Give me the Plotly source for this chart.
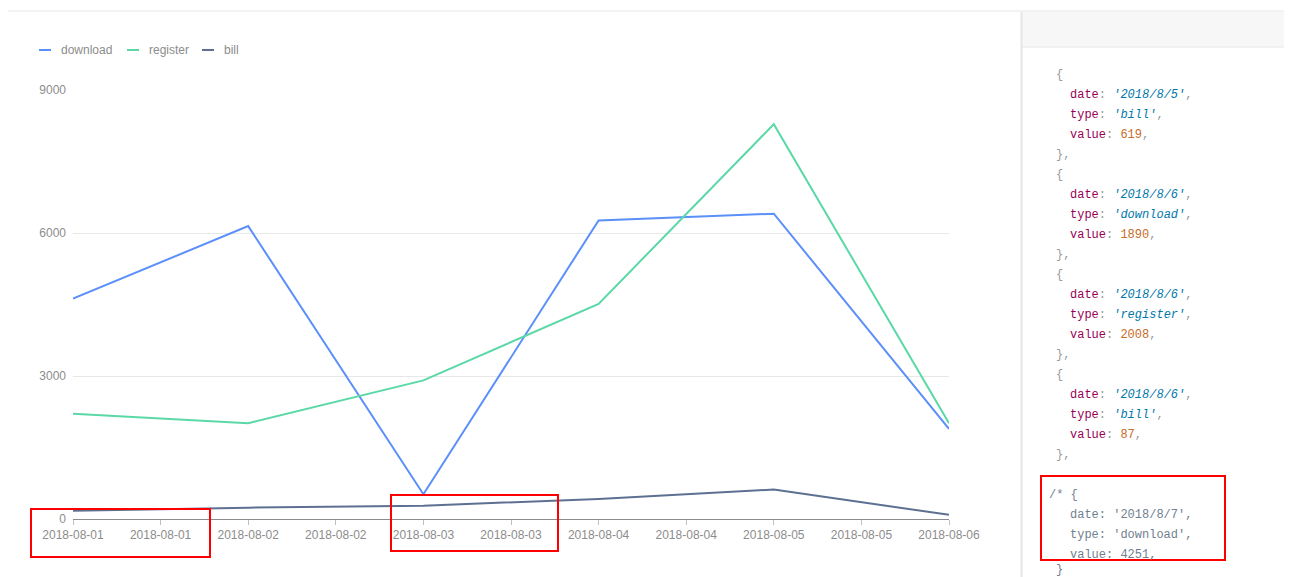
import plotly.graph_objects as go

# data
dates = ['2018-08-01', '2018-08-02', '2018-08-03', '2018-08-04', '2018-08-05', '2018-08-06']
download = [4625, 6145, 520, 6264, 6405, 1890]
register = [2207, 2011, 2908, 4513, 8282, 2008]
bill = [175, 238, 280, 420, 619, 87]

names = ['download', 'register', 'bill']
colors = ['#5B8FF9', '#5AD8A6', '#5D7092']

# the page puts the figure at an 8px body margin
OFF = 8
W, H = 1292 - OFF, 577 - OFF
L, R, T, B = 73 - OFF, 949 - OFF, 90 - OFF, 519 - OFF


def px(x):
    # x in screenshot pixels -> paper
    return (x - OFF - L) / (R - L)


def py(y):
    return (B - (y - OFF)) / (B - T)


fig = go.Figure()
for name, vals, col in zip(names, [download, register, bill], colors):
    fig.add_trace(go.Scatter(x=dates, y=vals, name=name, mode='lines',
                             line=dict(color=col, width=2), showlegend=False))

shapes = []
annotations = []

# legend drawn by hand (short line + label)
leg_x = [39, 127, 202]
for name, col, lx in zip(names, colors, leg_x):
    shapes.append(dict(type='line', xref='paper', yref='paper',
                       x0=px(lx), x1=px(lx + 12), y0=py(50), y1=py(50),
                       line=dict(color=col, width=2)))
    annotations.append(dict(text=name, xref='paper', yref='paper',
                            x=px(lx + 20), y=py(50), xanchor='left', yanchor='middle',
                            showarrow=False, font=dict(size=12, color='#8c8c8c')))

# page frame: top border, code panel
shapes.append(dict(type='line', xref='paper', yref='paper', x0=px(0), x1=px(1292),
                   y0=py(11), y1=py(11), line=dict(color='#e6e6e6', width=1)))
shapes.append(dict(type='rect', xref='paper', yref='paper', x0=px(1022), x1=px(1292),
                   y0=py(12), y1=py(47), fillcolor='#f7f7f7', line=dict(width=0)))
shapes.append(dict(type='line', xref='paper', yref='paper', x0=px(1022), x1=px(1292),
                   y0=py(47), y1=py(47), line=dict(color='#e6e6e6', width=1)))
shapes.append(dict(type='line', xref='paper', yref='paper', x0=px(1021.5), x1=px(1021.5),
                   y0=py(12), y1=py(577), line=dict(color='#e6e6e6', width=2)))

KEY = '#990055'
STR = '#0077aa'
NUM = '#c76b29'
PUN = '#999999'
CMT = '#708090'


def k(s):
    return '<span style="color:%s">%s</span>' % (KEY, s)


def p(s):
    return '<span style="color:%s">%s</span>' % (PUN, s)


def st(s):
    return '<span style="color:%s"><i>%s</i></span>' % (STR, s)


def n(s):
    return '<span style="color:%s">%s</span>' % (NUM, s)


def cm(s):
    return '<span style="color:%s">%s</span>' % (CMT, s)


def entry(d, t, v):
    return [
        (1056, p('{')),
        (1070, k('date') + p(': ') + st("'%s'" % d) + p(',')),
        (1070, k('type') + p(': ') + st("'%s'" % t) + p(',')),
        (1070, k('value') + p(': ') + n(v) + p(',')),
        (1056, p('},')),
    ]


code = []
code += entry('2018/8/5', 'bill', '619')
code += entry('2018/8/6', 'download', '1890')
code += entry('2018/8/6', 'register', '2008')
code += entry('2018/8/6', 'bill', '87')
code += [(1056, '')]
code += [
    (1049, cm('/* {')),
    (1070, cm("date: '2018/8/7',")),
    (1070, cm("type: 'download',")),
    (1070, cm('value: 4251,')),
]

y0 = 75
for i, (lx, txt) in enumerate(code):
    if not txt:
        continue
    annotations.append(dict(text=txt, xref='paper', yref='paper',
                            x=px(lx - 2), y=py(y0 + 20 * i), xanchor='left', yanchor='middle',
                            showarrow=False,
                            font=dict(family='Liberation Mono', size=12, color=PUN)))
# closing brace of the commented block, at the bottom edge of the page
annotations.append(dict(text=cm('}'), xref='paper', yref='paper',
                        x=px(1054), y=py(570), xanchor='left', yanchor='middle',
                        showarrow=False,
                        font=dict(family='Liberation Mono', size=12, color=PUN)))

# red highlight boxes
for x0, y_0, x1, y_1 in [(31, 509, 210, 557), (391, 495, 558, 551), (1041, 476, 1225, 560)]:
    shapes.append(dict(type='rect', xref='paper', yref='paper', layer='above',
                       x0=px(x0), x1=px(x1), y0=py(y_0), y1=py(y_1),
                       line=dict(color='#ff0000', width=2)))

fig.update_layout(
    width=W, height=H,
    margin=dict(l=L, r=W - R, t=T, b=H - B, pad=0),
    paper_bgcolor='white', plot_bgcolor='white',
    font=dict(family='Liberation Sans', size=12, color='#8c8c8c'),
    shapes=shapes, annotations=annotations,
    xaxis=dict(type='date', range=['2018-08-01', '2018-08-06'],
               tick0='2018-08-01', dtick=43200000, tickformat='%Y-%m-%d',
               showgrid=False, zeroline=False,
               showline=True, linecolor='#8c8c8c', linewidth=1,
               ticks='outside', ticklen=5, tickcolor='#bfbfbf',
               tickfont=dict(size=12, color='#8c8c8c')),
    yaxis=dict(range=[0, 9000], dtick=3000, showgrid=True, gridcolor='#e8e8e8',
               zeroline=False, showline=False, ticks='', ticklabelstandoff=6,
               tickfont=dict(size=12, color='#8c8c8c')),
)

fig.write_html("out.html")
